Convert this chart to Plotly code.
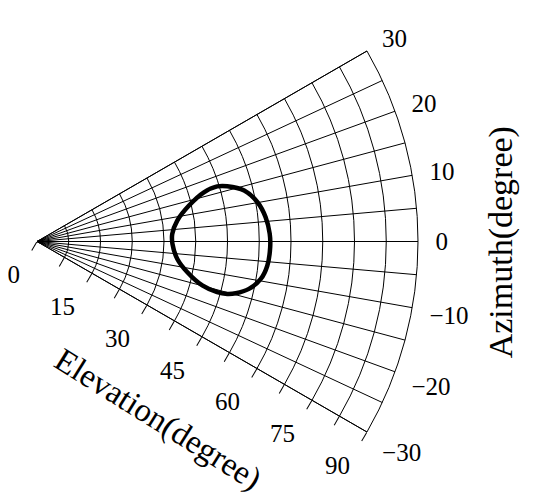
"""Elevation / azimuth coverage contour on a polar sector"""

import plotly.graph_objects as go

# contour (azimuth in degrees, elevation in degrees)
azimuth = [16.2, 13.8, 10.1, 6.1, 1.9, -1.4, -6.0, -9.5, -12.6, -14.6, -15.4,
           -15.7, -14.9, -11.5, -7.1, -1.0, 3.2, 8.5, 13.3, 16.4, 17.0, 16.2]
elevation = [46.8, 50.4, 52.9, 54.3, 55.0, 55.1, 54.7, 53.6, 51.3, 48.5, 46.6,
             44.2, 40.4, 36.2, 33.4, 32.0, 32.0, 33.5, 36.9, 41.1, 44.5, 46.8]

# axis ticks
elev_ticks = [0, 7.5, 15, 22.5, 30, 37.5, 45, 52.5, 60, 67.5, 75, 82.5, 90]
elev_labels = ["0", "", "15", "", "30", "", "45", "", "60", "", "75", "", "90"]
azim_ticks = [-30, -25, -20, -15, -10, -5, 0, 5, 10, 15, 20, 25, 30]
azim_labels = ["\u221230", "", "\u221220", "", "\u221210", "", "0",
               "", "10", "", "20", "", "30"]

FONT = "Liberation Serif"

fig = go.Figure()
fig.add_trace(
    go.Scatterpolar(
        r=elevation,
        theta=azimuth,
        mode="lines",
        line=dict(color="black", width=4.5, shape="spline"),
        showlegend=False,
    )
)
# empty trace so the overlay sector (labels only) gets drawn
fig.add_trace(go.Scatterpolar(r=[], theta=[], subplot="polar2", showlegend=False))

common = dict(
    domain=dict(x=[0, 1], y=[0, 1]),
    sector=[-30, 30],
)

fig.update_layout(
    width=550,
    height=503,
    margin=dict(l=29, r=140, t=43, b=79),
    paper_bgcolor="white",
    font=dict(family=FONT, color="black", size=25),
    polar=dict(
        **common,
        bgcolor="white",
        radialaxis=dict(
            range=[0, 90],
            angle=-30,
            tickvals=elev_ticks,
            ticks="outside",
            ticklen=10,
            tickwidth=1,
            tickcolor="black",
            showticklabels=False,
            showline=False,
            gridcolor="black",
            gridwidth=1,
        ),
        angularaxis=dict(
            direction="counterclockwise",
            rotation=0,
            tickvals=azim_ticks,
            ticktext=azim_labels,
            ticks="outside",
            ticklen=12,
            tickcolor="rgba(0,0,0,0)",
            showline=True,
            linecolor="black",
            linewidth=1,
            gridcolor="black",
            gridwidth=1,
            tickfont=dict(family=FONT, size=25),
        ),
    ),
    # second sector on top, only for the elevation labels (further off the edge)
    polar2=dict(
        **common,
        bgcolor="rgba(0,0,0,0)",
        radialaxis=dict(
            range=[0, 90],
            angle=-30,
            tickvals=elev_ticks,
            ticktext=elev_labels,
            ticks="outside",
            ticklen=16,
            tickcolor="rgba(0,0,0,0)",
            tickangle=-30,
            showgrid=False,
            showline=False,
            tickfont=dict(family=FONT, size=25),
        ),
        angularaxis=dict(
            visible=False,
            direction="counterclockwise",
            rotation=0,
            showgrid=False,
        ),
    ),
    annotations=[
        dict(
            text="Azimuth(degree)",
            xref="paper", yref="paper",
            x=1.217, y=0.497,
            xanchor="center", yanchor="middle",
            textangle=-90,
            showarrow=False,
            font=dict(family=FONT, size=34),
        ),
        dict(
            text="Elevation(degree)",
            xref="paper", yref="paper",
            x=0.318, y=0.034,
            xanchor="center", yanchor="middle",
            textangle=32,
            showarrow=False,
            font=dict(family=FONT, size=33),
        ),
    ],
)

fig.write_html("out.html")
